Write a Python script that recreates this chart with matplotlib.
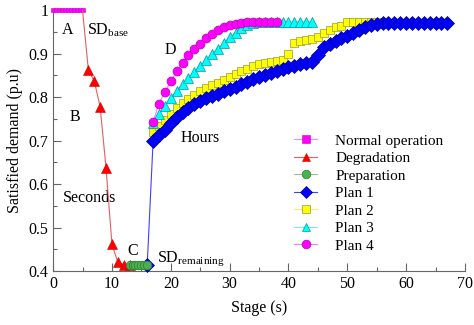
import matplotlib
matplotlib.use("Agg")
import matplotlib.pyplot as plt
from matplotlib.ticker import MultipleLocator, FuncFormatter

plt.rcParams['font.family'] = ['Liberation Serif', 'DejaVu Serif']
plt.rcParams['mathtext.fontset'] = 'custom'
plt.rcParams['mathtext.rm'] = 'Liberation Serif'

# Stage (s) and satisfied demand (p.u) per phase
normal_x = [0, 0.5, 1, 1.5, 2, 2.5, 3, 3.5, 4, 4.5, 5]
normal_y = [1.0] * len(normal_x)

degr_x = [5, 6, 7, 8, 9, 10, 11, 12, 13]
degr_y = [1.0, 0.862, 0.837, 0.777, 0.637, 0.462, 0.420, 0.415, 0.415]

prep_x = [13, 13.5, 14, 14.5, 15, 15.5, 16]
prep_y = [0.415] * len(prep_x)

plan1_x = [16] + list(range(17, 68))
plan1_y = [0.415,
           0.700, 0.712, 0.724, 0.740, 0.754, 0.766, 0.776, 0.784, 0.791, 0.797,
           0.803, 0.808, 0.813, 0.818, 0.823, 0.829, 0.835, 0.841, 0.846, 0.851,
           0.856, 0.861, 0.865, 0.869, 0.872, 0.875, 0.878, 0.881, 0.897, 0.915,
           0.923, 0.929, 0.935, 0.941, 0.948, 0.955, 0.960, 0.965, 0.968, 0.970,
           0.970, 0.970, 0.970, 0.970, 0.970, 0.970, 0.970, 0.970, 0.970, 0.970,
           0.970]

plan2_x = list(range(17, 56))
plan2_y = [0.720, 0.734, 0.747, 0.761, 0.774, 0.786, 0.796, 0.805, 0.813, 0.820,
           0.827, 0.833, 0.839, 0.847, 0.854, 0.860, 0.865, 0.872, 0.876, 0.879,
           0.881, 0.883, 0.885, 0.900, 0.924, 0.929, 0.931, 0.934, 0.939, 0.948,
           0.955, 0.960, 0.963, 0.972, 0.972, 0.972, 0.972, 0.972, 0.972]

plan3_x = list(range(17, 45))
plan3_y = [0.740, 0.762, 0.780, 0.798, 0.815, 0.830, 0.844, 0.858, 0.872, 0.885,
           0.899, 0.911, 0.924, 0.937, 0.948, 0.958, 0.966, 0.971, 0.973, 0.973,
           0.973, 0.973, 0.973, 0.973, 0.973, 0.973, 0.973, 0.973]

plan4_x = list(range(17, 39))
plan4_y = [0.743, 0.785, 0.812, 0.836, 0.860, 0.879, 0.896, 0.910, 0.923, 0.935,
           0.945, 0.954, 0.961, 0.966, 0.969, 0.971, 0.973, 0.973, 0.973, 0.973,
           0.973, 0.973]

fig = plt.figure(figsize=(4.74, 3.25), dpi=100)
ax = fig.add_axes([0.112, 0.166, 0.869, 0.803])

lw = 0.8
ax.plot(normal_x, normal_y, '-s', color='#FF80FF', lw=lw, ms=3.2,
        mfc='#FF00FF', mec='#CC00CC', mew=0.4, clip_on=False, zorder=4,
        label='Normal operation')
ax.plot(degr_x, degr_y, '-^', color='#E06060', lw=lw, ms=6.5,
        mfc='#FF0000', mec='#CC0000', mew=0.4, markevery=list(range(1, len(degr_x))),
        clip_on=False, zorder=4, label='Degradation')
ax.plot(plan1_x, plan1_y, '-D', color='#4040FF', lw=lw, ms=7.0,
        mfc='#0000FF', mec='#000090', mew=0.5, clip_on=False, zorder=3,
        label='Plan 1')
ax.plot(plan2_x, plan2_y, '-s', color='#F0F080', lw=lw, ms=6.0,
        mfc='#FFFF00', mec='#9A9A30', mew=0.5, clip_on=False, zorder=2,
        label='Plan 2')
ax.plot(plan3_x, plan3_y, '-^', color='#80E8E8', lw=lw, ms=6.6,
        mfc='#00FFFF', mec='#009A9A', mew=0.5, clip_on=False, zorder=2,
        label='Plan 3')
ax.plot(plan4_x, plan4_y, '-o', color='#F080F0', lw=lw, ms=6.4,
        mfc='#FF00FF', mec='#B000B0', mew=0.5, clip_on=False, zorder=2,
        label='Plan 4')
ax.plot(prep_x, prep_y, '-o', color='#9ABF9A', lw=lw, ms=6.2,
        mfc='#4CAF50', mec='#2E7D32', mew=0.5, clip_on=False, zorder=5,
        label='Preparation')

ax.set_xlim(0, 70)
ax.set_ylim(0.4, 1.0)
ax.xaxis.set_major_locator(MultipleLocator(10))
ax.xaxis.set_minor_locator(MultipleLocator(5))
ax.yaxis.set_major_locator(MultipleLocator(0.1))
ax.yaxis.set_minor_locator(MultipleLocator(0.05))
ax.yaxis.set_major_formatter(FuncFormatter(lambda v, p: '1' if abs(v - 1) < 1e-9 else f'{v:.1f}'))

for s in ('top', 'right'):
    ax.spines[s].set_visible(False)
for s in ('left', 'bottom'):
    ax.spines[s].set_color('#666666')
    ax.spines[s].set_linewidth(0.8)
ax.tick_params(which='both', direction='in', colors='#666666', labelcolor='black',
               labelsize=11.5)
ax.tick_params(which='major', length=6, width=0.8)
ax.tick_params(which='minor', length=3, width=0.8)

ax.set_xlabel('Stage (s)', fontsize=11.5, labelpad=6)
ax.set_ylabel('Satisfied demand (p.u)', fontsize=11.5, labelpad=4)

# Phase annotations
fs = 11.5
ax.text(2.4, 0.954, 'A', fontsize=fs, ha='center', va='center')
ax.text(5.8, 0.954, r'SD$_{\mathrm{base}}$', fontsize=fs, ha='left', va='center')
ax.text(3.7, 0.754, 'B', fontsize=fs, ha='center', va='center')
ax.text(1.7, 0.568, 'Seconds', fontsize=fs, ha='left', va='center')
ax.text(13.6, 0.446, 'C', fontsize=fs, ha='center', va='center')
ax.text(17.6, 0.428, r'SD$_{\mathrm{remaining}}$', fontsize=fs, ha='left', va='center')
ax.text(19.9, 0.908, 'D', fontsize=fs, ha='center', va='center')
ax.text(25.0, 0.705, 'Hours', fontsize=fs, ha='center', va='center')

handles, labels = ax.get_legend_handles_labels()
order = ['Normal operation', 'Degradation', 'Preparation', 'Plan 1', 'Plan 2', 'Plan 3', 'Plan 4']
hmap = dict(zip(labels, handles))
leg = ax.legend([hmap[k] for k in order], order, loc='upper left',
                bbox_to_anchor=(0.585, 0.525), frameon=False, fontsize=11,
                handlelength=1.5, handletextpad=1.2, labelspacing=0.25,
                borderpad=0, borderaxespad=0)
for h in leg.legend_handles:
    h.set_markersize(6.2)

fig.savefig('out.png', dpi=100)
